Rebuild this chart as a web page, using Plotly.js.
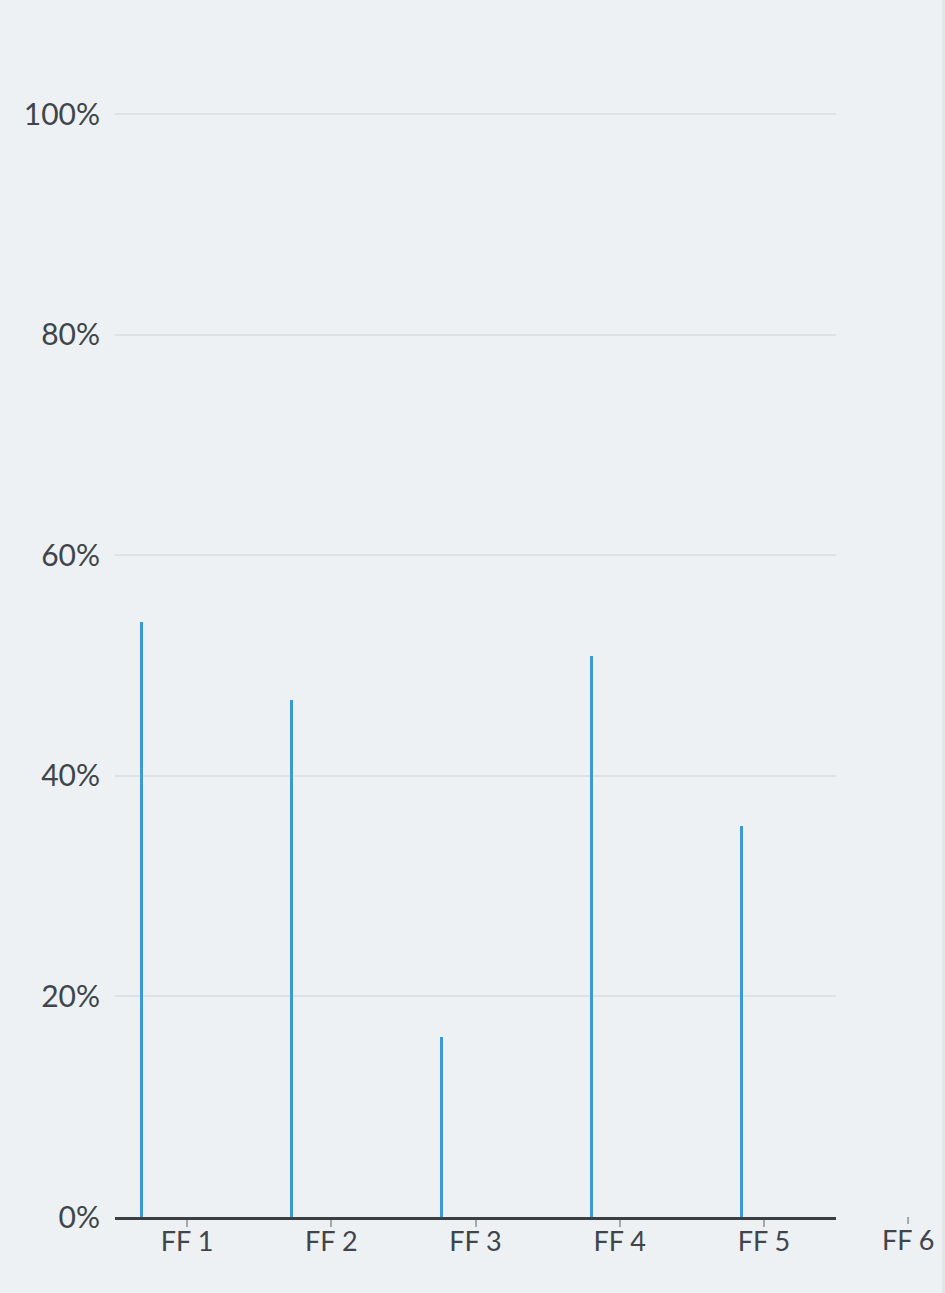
<!DOCTYPE html>
<html>
<head>
<meta charset="utf-8">
<script src="https://cdn.plot.ly/plotly-3.0.1.min.js"></script>
<style>
  html, body { margin: 0; padding: 0; background: #edf1f4; }
  #chart { width: 945px; height: 1293px; }
  #edge { position: absolute; left: 942px; top: 0; width: 3px; height: 1293px; background: #e2e6e9; }
</style>
</head>
<body>
<div id="chart"></div>
<div id="edge"></div>
<script>
// Data
const categories = ["FF 1", "FF 2", "FF 3", "FF 4", "FF 5"];
const values = [54.0, 46.9, 16.3, 50.9, 35.5];
const tickLabels = ["FF 1", "FF 2", "FF 3", "FF 4", "FF 5", "FF 6"];
const yTicks = [0, 20, 40, 60, 80, 100];

const W = 945, H = 1293;
const margin = { l: 115, r: 109, t: 111, b: 76 };
const textColor = "#3f454a";
const fontFam = "Lato, 'Open Sans', sans-serif";

const labelTickVals = tickLabels.slice(0, 5).map((_, i) => i + 1);
const labRange = [0.5, 5.5];
const sixthPaperX = (tickLabels.length - labRange[0]) / (labRange[1] - labRange[0]);

const data = [
  {
    type: "bar",
    x: categories,
    y: values,
    xaxis: "x",
    yaxis: "y",
    width: 0.02,
    marker: { color: "#3b9ad6", line: { width: 0 } },
    hoverinfo: "skip"
  },
  {
    type: "scatter",
    x: [],
    y: [],
    xaxis: "x2",
    yaxis: "y",
    hoverinfo: "skip",
    showlegend: false
  }
];

const layout = {
  width: W,
  height: H,
  margin: margin,
  paper_bgcolor: "#edf1f4",
  plot_bgcolor: "#edf1f4",
  showlegend: false,
  font: { family: fontFam, size: 28, color: textColor },
  bargap: 0,
  xaxis: {
    type: "category",
    range: [-0.178, 4.633],
    visible: false,
    fixedrange: true
  },
  xaxis2: {
    type: "linear",
    overlaying: "x",
    side: "bottom",
    anchor: "y",
    range: labRange,
    tickvals: labelTickVals,
    ticktext: tickLabels.slice(0, 5),
    ticks: "outside",
    ticklen: 7,
    tickwidth: 2,
    tickcolor: "#a3a8ad",
    showgrid: false,
    zeroline: false,
    showline: true,
    linecolor: "#3a3f43",
    linewidth: 3,
    ticklabelstandoff: -8,
    tickfont: { family: fontFam, size: 27, color: textColor },
    fixedrange: true
  },
  yaxis: {
    range: [0, 100.3],
    tickvals: yTicks,
    ticktext: yTicks.map(v => v + "%"),
    showgrid: true,
    gridcolor: "#dde2e6",
    gridwidth: 2,
    zeroline: false,
    showline: false,
    ticks: "",
    ticklabelstandoff: 14,
    tickfont: { family: fontFam, size: 30, color: textColor },
    fixedrange: true
  },
  annotations: [
    {
      xref: "paper",
      yref: "paper",
      x: sixthPaperX,
      y: 0,
      xanchor: "center",
      yanchor: "top",
      yshift: -4,
      text: tickLabels[5],
      showarrow: false,
      font: { family: fontFam, size: 27, color: textColor }
    }
  ],
  shapes: [
    {
      type: "line",
      xref: "paper",
      yref: "paper",
      x0: sixthPaperX,
      x1: sixthPaperX,
      y0: 0,
      y1: -7 / (H - margin.t - margin.b),
      line: { color: "#a3a8ad", width: 2 }
    }
  ]
};

Plotly.newPlot("chart", data, layout, { displayModeBar: false, staticPlot: true });
</script>
</body>
</html>
